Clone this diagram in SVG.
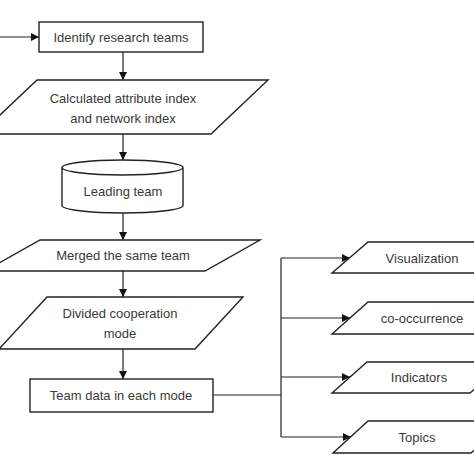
<svg xmlns="http://www.w3.org/2000/svg" width="474" height="474" viewBox="0 0 474 474">
<defs>
<style>
.s{fill:#fff;stroke:#222;stroke-width:1.4}
.t{font-family:"Liberation Sans",Arial,sans-serif;font-size:13px;fill:#3a3a3a;text-anchor:middle}
.c{fill:none;stroke:#222;stroke-width:1.2}
</style>
<marker id="ah" viewBox="0 0 10 10" refX="10" refY="5" markerWidth="8" markerHeight="8" markerUnits="userSpaceOnUse" orient="auto">
<path d="M0,0 L10,5 L0,10 z" fill="#111"/>
</marker>
</defs>
<rect width="474" height="474" fill="#fff"/>
<g id="connectors">
<line class="c" x1="0" y1="37" x2="39" y2="37" marker-end="url(#ah)"/>
<line class="c" x1="123" y1="52" x2="123" y2="80" marker-end="url(#ah)"/>
<line class="c" x1="123" y1="134" x2="123" y2="160" marker-end="url(#ah)"/>
<line class="c" x1="123" y1="213" x2="123" y2="240" marker-end="url(#ah)"/>
<line class="c" x1="123" y1="271" x2="123" y2="297" marker-end="url(#ah)"/>
<line class="c" x1="123" y1="349" x2="123" y2="379" marker-end="url(#ah)"/>
<polyline class="c" points="213,395 281,395"/>
<line class="c" x1="281" y1="258" x2="281" y2="437"/>
<line class="c" x1="281" y1="258" x2="350" y2="258" marker-end="url(#ah)"/>
<line class="c" x1="281" y1="318" x2="350" y2="318" marker-end="url(#ah)"/>
<line class="c" x1="281" y1="377" x2="350" y2="377" marker-end="url(#ah)"/>
<line class="c" x1="281" y1="437" x2="351" y2="437" marker-end="url(#ah)"/>
</g>
<g id="identify">
<rect class="s" x="39" y="22" width="164" height="30"/>
<text class="t" x="121" y="42">Identify research teams</text>
</g>
<g id="calculated">
<polygon class="s" points="37,80 268,80 211,134 -20,134"/>
<text class="t" x="123" y="103">Calculated attribute index</text>
<text class="t" x="123" y="123">and network index</text>
</g>
<g id="leading">
<path class="s" d="M62,167.5 L62,205.5 A60.5,7.5 0 0 0 183,205.5 L183,167.5 A60.5,7.5 0 0 0 62,167.5 A60.5,7.5 0 0 0 183,167.5"/>
<text class="t" x="123" y="196">Leading team</text>
</g>
<g id="merged">
<polygon class="s" points="40,240 260,240 205,271 -15,271"/>
<text class="t" x="123" y="260">Merged the same team</text>
</g>
<g id="divided">
<polygon class="s" points="47,297 243,297 195,349 -1,349"/>
<text class="t" x="120" y="318">Divided cooperation</text>
<text class="t" x="120" y="338">mode</text>
</g>
<g id="teamdata">
<rect class="s" x="30" y="379" width="183" height="33"/>
<text class="t" x="121" y="400">Team data in each mode</text>
</g>
<g id="visualization">
<polygon class="s" points="368,242 510,242 474,273 332,273"/>
<text class="t" x="422" y="263">Visualization</text>
</g>
<g id="cooccurrence">
<polygon class="s" points="368,302 510,302 474,334 332,334"/>
<text class="t" x="422" y="323">co-occurrence</text>
</g>
<g id="indicators">
<polygon class="s" points="367,362 506,362 470,393 332,393"/>
<text class="t" x="419" y="382">Indicators</text>
</g>
<g id="topics">
<polygon class="s" points="368,421 507,421 471,453 333,453"/>
<text class="t" x="417" y="442">Topics</text>
</g>
</svg>
